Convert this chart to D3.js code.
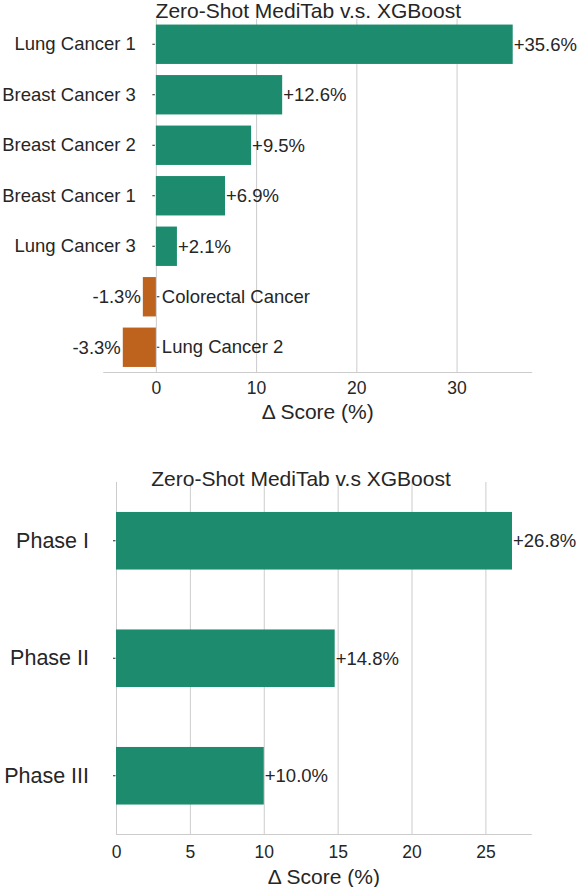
<!DOCTYPE html>
<html>
<head>
<meta charset="utf-8">
<script src="https://cdn.jsdelivr.net/npm/d3@7"></script>
<style>
  html, body { margin: 0; padding: 0; background: #fff; }
  svg text { font-family: "Liberation Sans", Arial, Helvetica, sans-serif; fill: #262626; }
</style>
</head>
<body>
<svg id="chart" width="577" height="887"></svg>
<script>
// ---- data ----
const topTitle = "Zero-Shot MediTab v.s. XGBoost";
const topCategories = ["Lung Cancer 1", "Breast Cancer 3", "Breast Cancer 2", "Breast Cancer 1", "Lung Cancer 3", "Colorectal Cancer", "Lung Cancer 2"];
const topValues = [35.6, 12.6, 9.5, 6.9, 2.1, -1.3, -3.3];
const topTicks = [0, 10, 20, 30];

const bottomTitle = "Zero-Shot MediTab v.s XGBoost";
const bottomCategories = ["Phase I", "Phase II", "Phase III"];
const bottomValues = [26.8, 14.8, 10.0];
const bottomTicks = [0, 5, 10, 15, 20, 25];

const xLabel = "\u0394 Score (%)";

// ---- style ----
const GREEN = "#1d8b6d";
const ORANGE = "#be631d";
const GRID = "#cccccc";
const TEXT = "#262626";

const svg = d3.select("#chart");
const fmt = v => (v >= 0 ? "+" : "") + v.toFixed(1) + "%";

// ================= TOP CHART =================
(function () {
  const left = 103.3, right = 532.2, top = 19, bottom = 372.5;
  const vmin = d3.min(topValues), vmax = d3.max(topValues);
  const m = (vmax - vmin) * 0.05;
  const x = d3.scaleLinear().domain([vmin - m, vmax + m]).range([left, right]);
  const y = d3.scaleBand().domain(topCategories).range([top, bottom]).paddingInner(0.22).paddingOuter(0.11);
  const x0 = x(0);
  const g = svg.append("g");

  const grid = g.append("g").attr("transform", `translate(0,${bottom})`)
    .call(d3.axisBottom(x).tickValues(topTicks).tickSize(-(bottom - top)).tickFormat(""));
  grid.select(".domain").remove();
  grid.selectAll("line").attr("stroke", GRID).attr("stroke-width", 1);

  g.append("line").attr("x1", left).attr("x2", right).attr("y1", bottom).attr("y2", bottom)
    .attr("stroke", GRID).attr("stroke-width", 1.1);

  const xa = g.append("g").attr("transform", `translate(0,${bottom})`)
    .call(d3.axisBottom(x).tickValues(topTicks).tickSize(0).tickPadding(9.5).tickFormat(d3.format("d")));
  xa.select(".domain").remove();
  xa.selectAll("text").attr("font-size", 17.5).attr("fill", TEXT);

  g.selectAll("rect.bar").data(topValues).join("rect").attr("class", "bar")
    .attr("x", d => x(Math.min(0, d)))
    .attr("width", d => Math.abs(x(d) - x0))
    .attr("y", (d, i) => y(topCategories[i]))
    .attr("height", y.bandwidth())
    .attr("fill", d => d >= 0 ? GREEN : ORANGE);

  const ya = g.append("g").attr("transform", `translate(${x0},0)`)
    .call(d3.axisLeft(y).tickSize(3).tickPadding(17));
  ya.select(".domain").remove();
  ya.selectAll(".tick").each(function (c) {
    const v = topValues[topCategories.indexOf(c)];
    const t = d3.select(this);
    t.select("line").attr("stroke", TEXT).attr("x1", v >= 0 ? -1 : 1).attr("x2", v >= 0 ? -3.5 : 3.5);
    const tx = t.select("text").attr("font-size", 18.5).attr("fill", TEXT);
    if (v < 0) tx.attr("x", 6).attr("text-anchor", "start");
  });

  g.selectAll("text.val").data(topValues).join("text").attr("class", "val")
    .attr("x", d => d >= 0 ? x(d) + 1 : x(d) - 2)
    .attr("y", (d, i) => y(topCategories[i]) + y.bandwidth() / 2)
    .attr("dy", "0.35em")
    .attr("text-anchor", d => d >= 0 ? "start" : "end")
    .attr("font-size", 18.5)
    .text(fmt);

  g.append("text").attr("x", 308.3).attr("y", 17.5).attr("text-anchor", "middle")
    .attr("font-size", 21).text(topTitle);
  g.append("text").attr("x", (left + right) / 2).attr("y", 419).attr("text-anchor", "middle")
    .attr("font-size", 21).text(xLabel);
})();

// ================= BOTTOM CHART =================
(function () {
  const left = 116, right = 531.8, top = 482, bottom = 834.5;
  const vmax = d3.max(bottomValues);
  const x = d3.scaleLinear().domain([0, vmax * 1.05]).range([left, right]);
  const y = d3.scaleBand().domain(bottomCategories).range([top, bottom]).paddingInner(0.51).paddingOuter(0.255);
  const g = svg.append("g");

  const grid = g.append("g").attr("transform", `translate(0,${bottom})`)
    .call(d3.axisBottom(x).tickValues(bottomTicks).tickSize(-(bottom - top)).tickFormat(""));
  grid.select(".domain").remove();
  grid.selectAll("line").attr("stroke", GRID).attr("stroke-width", 1);

  g.append("line").attr("x1", left).attr("x2", right).attr("y1", bottom).attr("y2", bottom)
    .attr("stroke", GRID).attr("stroke-width", 1.1);

  const xa = g.append("g").attr("transform", `translate(0,${bottom})`)
    .call(d3.axisBottom(x).tickValues(bottomTicks).tickSize(0).tickPadding(11.3).tickFormat(d3.format("d")));
  xa.select(".domain").remove();
  xa.selectAll("text").attr("font-size", 17.5).attr("fill", TEXT);

  g.selectAll("rect.bar").data(bottomValues).join("rect").attr("class", "bar")
    .attr("x", x(0))
    .attr("width", d => x(d) - x(0))
    .attr("y", (d, i) => y(bottomCategories[i]))
    .attr("height", y.bandwidth())
    .attr("fill", GREEN);

  const ya = g.append("g").attr("transform", `translate(${left},0)`)
    .call(d3.axisLeft(y).tickSize(3).tickPadding(24));
  ya.select(".domain").remove();
  ya.selectAll(".tick line").attr("stroke", TEXT).attr("x1", -0.5);
  ya.selectAll(".tick text").attr("font-size", 21.5).attr("fill", TEXT);

  g.selectAll("text.val").data(bottomValues).join("text").attr("class", "val")
    .attr("x", d => x(d) + 1)
    .attr("y", (d, i) => y(bottomCategories[i]) + y.bandwidth() / 2)
    .attr("dy", "0.35em")
    .attr("font-size", 18.5)
    .text(fmt);

  g.append("text").attr("x", 301).attr("y", 486).attr("text-anchor", "middle")
    .attr("font-size", 21).text(bottomTitle);
  g.append("text").attr("x", (left + right) / 2).attr("y", 884).attr("text-anchor", "middle")
    .attr("font-size", 21).text(xLabel);
})();
</script>
</body>
</html>
